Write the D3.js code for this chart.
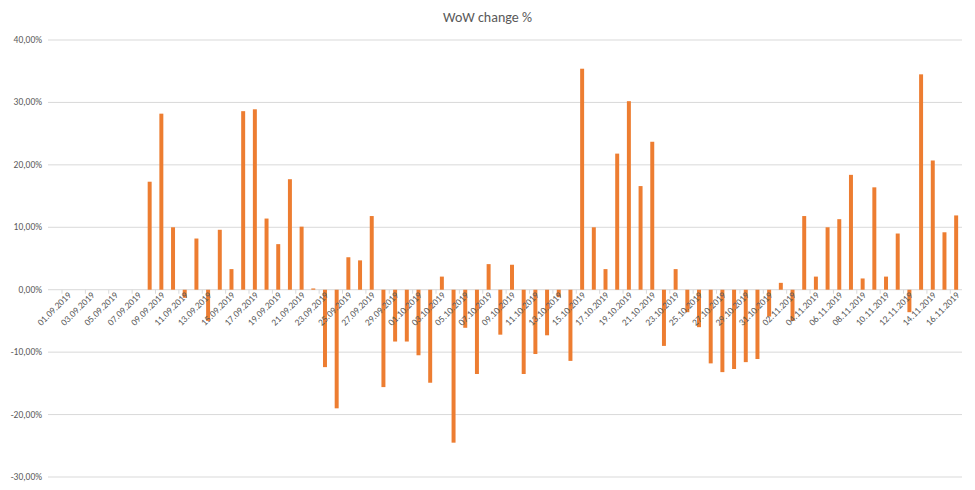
<!DOCTYPE html>
<html><head><meta charset="utf-8">
<script src="https://cdn.jsdelivr.net/npm/d3@7"></script>
<style>body{margin:0;background:#fff;font-family:Calibri,"Liberation Sans",Arial,sans-serif}</style>
</head><body><svg id="c" width="975" height="490"></svg>
<script>
const startDate = "2019-09-01";
const dayCount = 77;
const values = [0,0,0,0,0,0,0,17.3,28.2,10,-1.3,8.2,-5,9.6,3.3,28.6,28.9,11.4,7.3,17.7,10.1,0.2,-12.4,-19,5.2,4.7,11.8,-15.6,-8.3,-8.3,-10.5,-14.9,2.1,-24.5,-6.1,-13.5,4.1,-7.2,4,-13.5,-10.3,-7.3,-1.2,-11.4,35.4,10,3.3,21.8,30.2,16.6,23.7,-9,3.3,-3.6,-6,-11.8,-13.2,-12.7,-11.6,-11.1,-4.3,1.1,-5,11.8,2.1,10,11.3,18.4,1.8,16.4,2.1,9,-3.6,34.5,20.7,9.2,11.9];
const yTicks = [-30,-20,-10,0,10,20,30,40];
const fmt = d3.timeFormat("%d.%m.%Y");
const s = new Date(startDate+"T00:00:00");
const categories = d3.range(dayCount).map(i => fmt(new Date(s.getFullYear(), s.getMonth(), s.getDate()+i)));

const svg = d3.select("#c");
const m = {l:62,r:13,t:40,b:13};
const W=975,H=490;
const x = d3.scaleBand().domain(categories).range([m.l,W-m.r]).paddingInner(0.66).paddingOuter(0.33);
const y = d3.scaleLinear().domain([-30,40]).range([477,40]);

svg.append("text").attr("x",W/2).attr("y",22).attr("text-anchor","middle")
  .attr("font-size",14).attr("fill","#595959").text("WoW change %");

const g = svg.append("g");
g.selectAll("line.grid").data(yTicks).join("line")
  .attr("x1",m.l-14).attr("x2",W-m.r).attr("y1",d=>y(d)).attr("y2",d=>y(d))
  .attr("stroke","#d9d9d9").attr("stroke-width",1);
g.selectAll("text.yl").data(yTicks).join("text")
  .attr("x",m.l-20).attr("y",d=>y(d)+3).attr("text-anchor","end")
  .attr("font-size",9.5).attr("fill","#595959")
  .text(d=>d.toFixed(2).replace(".",",")+"%");

g.selectAll("rect").data(values).join("rect")
  .attr("x",(d,i)=>x(categories[i])).attr("width",x.bandwidth())
  .attr("y",d=>y(Math.max(0,d))).attr("height",d=>Math.abs(y(d)-y(0)))
  .attr("fill","#ED7D31");

const step = x.step();
const first = x(categories[0]) - x.paddingOuter()*step + 0;
// axis ticks at band boundaries
g.selectAll("line.tk").data(d3.range(0,dayCount+1,2)).join("line")
  .attr("x1",i=>x.range()[0]+ (x.range()[1]-x.range()[0])/dayCount*i)
  .attr("x2",i=>x.range()[0]+ (x.range()[1]-x.range()[0])/dayCount*i)
  .attr("y1",y(0)).attr("y2",y(0)+4).attr("stroke","#d9d9d9");
g.selectAll("text.xl").data(categories.filter((c,i)=>i%2===0)).join("text")
  .attr("transform",d=>`translate(${x(d)+x.bandwidth()/2+4},${y(0)+6}) rotate(-45)`)
  .attr("text-anchor","end").attr("font-size",9.5).attr("fill","#595959").text(d=>d);
</script></body></html>
